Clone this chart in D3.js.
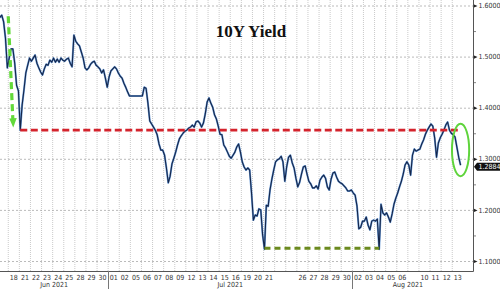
<!DOCTYPE html>
<html>
<head>
<meta charset="utf-8">
<script src="https://cdn.jsdelivr.net/npm/d3@7"></script>
<style>
  html, body { margin: 0; padding: 0; background: #fff; }
  svg { display: block; }
  .lbl { font-family: 'Liberation Sans Narrow', 'DejaVu Sans Condensed', 'Liberation Sans', sans-serif; font-size: 7px; fill: #333; }
</style>
</head>
<body>
<svg id="chart" width="500" height="289"></svg>
<script>
// trading days on the chart (Jun 17 is only partly in view)
const days = [
  '2021-06-17', '2021-06-18', '2021-06-21', '2021-06-22', '2021-06-23', '2021-06-24', '2021-06-25',
  '2021-06-28', '2021-06-29', '2021-06-30', '2021-07-01', '2021-07-02', '2021-07-05', '2021-07-06',
  '2021-07-07', '2021-07-08', '2021-07-09', '2021-07-12', '2021-07-13', '2021-07-14', '2021-07-15',
  '2021-07-16', '2021-07-19', '2021-07-20', '2021-07-21', '2021-07-22', '2021-07-23', '2021-07-26',
  '2021-07-27', '2021-07-28', '2021-07-29', '2021-07-30', '2021-08-02', '2021-08-03', '2021-08-04',
  '2021-08-05', '2021-08-06', '2021-08-09', '2021-08-10', '2021-08-11', '2021-08-12', '2021-08-13'
]

// day labels the terminal left out
const hiddenDayLabels = ['2021-06-17', '2021-07-22', '2021-07-23', '2021-08-09']

// 10Y yield, one reading every 4 hours (6 per day); Jul 5 holiday has none
const yields = [
  [1.575, 1.578, 1.582, 1.569, 1.537, 1.479],
  [1.498, 1.516, 1.516, 1.488, 1.445, 1.434],
  [1.357, 1.406, 1.436, 1.469, 1.484, 1.498],
  [1.492, 1.498, 1.504, 1.488, 1.479, 1.471],
  [1.465, 1.477, 1.486, 1.484, 1.494, 1.490],
  [1.498, 1.490, 1.496, 1.490, 1.498, 1.494],
  [1.492, 1.496, 1.498, 1.488, 1.481, 1.543],
  [1.531, 1.526, 1.522, 1.510, 1.498, 1.479],
  [1.475, 1.479, 1.486, 1.490, 1.492, 1.484],
  [1.481, 1.477, 1.469, 1.475, 1.459, 1.441],
  [1.461, 1.473, 1.477, 1.481, 1.477, 1.469],
  [1.463, 1.459, 1.449, 1.441, 1.432, 1.424],
  [],
  [1.424, 1.441, 1.439, 1.410, 1.375, 1.369],
  [1.363, 1.357, 1.348, 1.330, 1.318, 1.318],
  [1.308, 1.283, 1.254, 1.267, 1.291, 1.302],
  [1.314, 1.328, 1.340, 1.346, 1.351, 1.355],
  [1.357, 1.361, 1.363, 1.367, 1.363, 1.373],
  [1.375, 1.371, 1.363, 1.371, 1.389, 1.412],
  [1.420, 1.410, 1.402, 1.387, 1.379, 1.365],
  [1.349, 1.348, 1.328, 1.322, 1.314, 1.306],
  [1.302, 1.308, 1.314, 1.324, 1.330, 1.314],
  [1.295, 1.285, 1.279, 1.283, 1.279, 1.234],
  [1.181, 1.191, 1.189, 1.203, 1.201, 1.152],
  [1.124, 1.210, 1.208, 1.240, 1.261, 1.279],
  [1.295, 1.299, 1.301, 1.306, 1.295, 1.257],
  [1.285, 1.304, 1.308, 1.293, 1.283, 1.263],
  [1.246, 1.255, 1.271, 1.285, 1.287, 1.271],
  [1.257, 1.252, 1.244, 1.244, 1.248, 1.242],
  [1.259, 1.265, 1.269, 1.263, 1.246, 1.240],
  [1.261, 1.273, 1.275, 1.265, 1.257, 1.254],
  [1.252, 1.248, 1.244, 1.238, 1.238, 1.240],
  [1.234, 1.230, 1.209, 1.164, 1.167, 1.179],
  [1.179, 1.187, 1.171, 1.162, 1.179, 1.181],
  [1.179, 1.183, 1.124, 1.212, 1.195, 1.191],
  [1.195, 1.187, 1.177, 1.193, 1.212, 1.224],
  [1.234, 1.246, 1.257, 1.271, 1.289, 1.295],
  [1.289, 1.269, 1.308, 1.320, 1.316, 1.318],
  [1.320, 1.330, 1.338, 1.349, 1.357, 1.363],
  [1.369, 1.365, 1.342, 1.304, 1.332, 1.342],
  [1.349, 1.357, 1.367, 1.373, 1.357, 1.351],
  [1.348, 1.344, 1.324, 1.304, 1.2884]
]

const yTicks = [1.1, 1.2, 1.3, 1.4, 1.5, 1.6]
const yMinorTicks = [1.15, 1.25, 1.35, 1.45, 1.55]
const title = '10Y Yield'

// drop after the Fed: from the Jun 17 high down to the Jun 21 low
const dropArrow = [['2021-06-18', 0.0, 1.580], ['2021-06-18', 0.45, 1.362]]

const SLOTS = 6
const W = 500
const H = 289
const plotRight = 473
const plotBottom = 271

const parse = d3.timeParse('%Y-%m-%d')
const dayIndex = (d) => days.indexOf(d)

const points = yields.flatMap((vals, k) => vals.map((v, i) => ({ day: k, t: k + (i + 0.5) / SLOTS, v })))
const last = points[points.length - 1]

const x = d3.scaleLinear().domain([0, days.length]).range([-2.85, 463.35])
const y = d3.scaleLinear().domain([1.1, 1.6]).range([261.5, 6])

const svg = d3.select('#chart')

svg.append('defs').append('clipPath').attr('id', 'plot')
  .append('rect').attr('x', 0).attr('y', 0).attr('width', plotRight).attr('height', plotBottom)

const grid = svg.append('g')

// vertical day grid
grid.selectAll('line.v')
  .data(d3.range(1, days.length))
  .enter().append('line')
  .attr('x1', (k) => x(k)).attr('x2', (k) => x(k))
  .attr('y1', 0).attr('y2', plotBottom)
  .attr('stroke', '#c4c4c4')
  .attr('stroke-width', 0.9)
  .attr('stroke-dasharray', '1,1')

// horizontal grid
grid.selectAll('line.h')
  .data(yTicks)
  .enter().append('line')
  .attr('x1', 0).attr('x2', plotRight)
  .attr('y1', (v) => y(v)).attr('y2', (v) => y(v))
  .attr('stroke', '#aaa')
  .attr('stroke-width', 0.8)
  .attr('stroke-dasharray', '2,2')

const plot = svg.append('g').attr('clip-path', 'url(#plot)')

const line = d3.line()
  .x((d) => x(d.t))
  .y((d) => y(d.v))

plot.append('path')
  .datum(points)
  .attr('d', line)
  .attr('fill', 'none')
  .attr('stroke', '#6b9bd6')
  .attr('stroke-width', 2)
  .attr('stroke-linejoin', 'round')

plot.append('path')
  .datum(points)
  .attr('d', line)
  .attr('fill', 'none')
  .attr('stroke', '#15264a')
  .attr('stroke-width', 1.1)
  .attr('stroke-linejoin', 'round')

// resistance: the Jun 21 low, carried to today
const jun21 = points.filter((p) => p.day === dayIndex('2021-06-21'))
const redLow = d3.least(jun21, (p) => p.v)
plot.append('line')
  .attr('x1', x(redLow.t)).attr('x2', x(last.t))
  .attr('y1', y(redLow.v)).attr('y2', y(redLow.v))
  .attr('stroke', '#d4232c')
  .attr('stroke-width', 2.8)
  .attr('stroke-dasharray', '7,3.5')

// support: the double bottom of Jul 21 and Aug 4
const inRange = (a, b) => points.filter((p) => p.day >= dayIndex(a) && p.day <= dayIndex(b))
const lowA = d3.least(inRange('2021-07-19', '2021-07-23'), (p) => p.v)
const lowB = d3.least(inRange('2021-08-02', '2021-08-06'), (p) => p.v)
plot.append('line')
  .attr('x1', x(lowA.t)).attr('x2', x(lowB.t))
  .attr('y1', y(lowA.v) - 1).attr('y2', y(lowA.v) - 1)
  .attr('stroke', '#6b8a1e')
  .attr('stroke-width', 2.8)
  .attr('stroke-dasharray', '6,4')

// green arrow
const arrowPts = dropArrow.map(([d, f, v]) => [x(dayIndex(d) + f), y(v)])
const [ax0, ay0] = arrowPts[0]
const [ax1, ay1] = arrowPts[1]
plot.append('line')
  .attr('x1', ax0).attr('y1', ay0)
  .attr('x2', ax1 - 0.4).attr('y2', ay1 - 8)
  .attr('stroke', '#62d93a')
  .attr('stroke-width', 3.2)
  .attr('stroke-dasharray', '7,4')
plot.append('path')
  .attr('d', `M ${ax1 - 4} ${ay1 - 9} L ${ax1 + 3.5} ${ay1 - 9.5} L ${ax1} ${ay1} z`)
  .attr('fill', '#62d93a')

// circle round the last session
const aug13 = points.filter((p) => p.day === dayIndex('2021-08-13'))
const [lo, hi] = d3.extent(aug13, (p) => p.v)
svg.append('ellipse')
  .attr('cx', x(last.t))
  .attr('cy', y((lo + hi) / 2))
  .attr('rx', 8.6)
  .attr('ry', (y(lo) - y(hi)) / 2 + 11)
  .attr('fill', 'none')
  .attr('stroke', '#5fd43c')
  .attr('stroke-width', 2)

// title
svg.append('text')
  .attr('x', 251).attr('y', 37)
  .attr('text-anchor', 'middle')
  .attr('font-family', "'Liberation Serif', 'DejaVu Serif', serif")
  .attr('font-weight', 'bold')
  .attr('font-size', 17)
  .attr('fill', '#111')
  .text(title)

// right axis
const axis = svg.append('g')
axis.append('line')
  .attr('x1', plotRight + 0.5).attr('x2', plotRight + 0.5)
  .attr('y1', 0).attr('y2', plotBottom + 0.5)
  .attr('stroke', '#555')
axis.append('line')
  .attr('x1', 0).attr('x2', plotRight + 0.5)
  .attr('y1', plotBottom + 0.5).attr('y2', plotBottom + 0.5)
  .attr('stroke', '#555')

axis.selectAll('path.tick')
  .data(yTicks)
  .enter().append('path')
  .attr('d', (v) => `M ${plotRight + 1} ${y(v) - 1.6} L ${plotRight + 4.5} ${y(v)} L ${plotRight + 1} ${y(v) + 1.6} z`)
  .attr('fill', '#222')

axis.selectAll('line.minor')
  .data(yMinorTicks)
  .enter().append('line')
  .attr('x1', plotRight + 1).attr('x2', plotRight + 3)
  .attr('y1', (v) => y(v)).attr('y2', (v) => y(v))
  .attr('stroke', '#666')
  .attr('stroke-width', 0.8)

axis.selectAll('text.ylab')
  .data(yTicks)
  .enter().append('text')
  .attr('class', 'lbl')
  .attr('x', plotRight + 5.5)
  .attr('y', (v) => y(v))
  .attr('dy', '0.3em')
  .text(d3.format('.4f'))

// last value tag, sitting just under the price so the 1.3000 label stays readable
const tagY = y(last.v) + 1.5
axis.append('path')
  .attr('d', `M ${plotRight + 1} ${tagY} L ${plotRight + 4} ${tagY - 4} L ${W} ${tagY - 4} L ${W} ${tagY + 4} L ${plotRight + 4} ${tagY + 4} z`)
  .attr('fill', '#111')
axis.append('text')
  .attr('class', 'lbl')
  .attr('x', plotRight + 5.5)
  .attr('y', tagY)
  .attr('dy', '0.35em')
  .style('fill', '#fff')
  .text(d3.format('.4f')(last.v))

// bottom axis: day numbers
const dayFmt = d3.timeFormat('%d')
axis.selectAll('text.day')
  .data(days.filter((d) => !hiddenDayLabels.includes(d)))
  .enter().append('text')
  .attr('class', 'lbl')
  .attr('x', (d) => x(dayIndex(d) + 0.5))
  .attr('y', 277.5)
  .attr('dy', '0.35em')
  .attr('text-anchor', 'middle')
  .text((d) => dayFmt(parse(d)))

// month blocks
const months = d3.groups(days, (d) => d.slice(0, 7))
const monthFmt = d3.timeFormat('%b %Y')
months.forEach(([m, ds], i) => {
  const start = Math.max(0, x(dayIndex(ds[0])))
  const end = x(dayIndex(ds[ds.length - 1]) + 1)
  if (i > 0) {
    axis.append('line')
      .attr('x1', Math.round(start) + 0.5).attr('x2', Math.round(start) + 0.5)
      .attr('y1', plotBottom).attr('y2', H)
      .attr('stroke', '#777')
  }
  axis.append('text')
    .attr('class', 'lbl')
    .attr('x', (start + end) / 2)
    .attr('y', 284.5)
    .attr('dy', '0.35em')
    .attr('text-anchor', 'middle')
    .text(monthFmt(parse(m + '-01')))
})
</script>
</body>
</html>
